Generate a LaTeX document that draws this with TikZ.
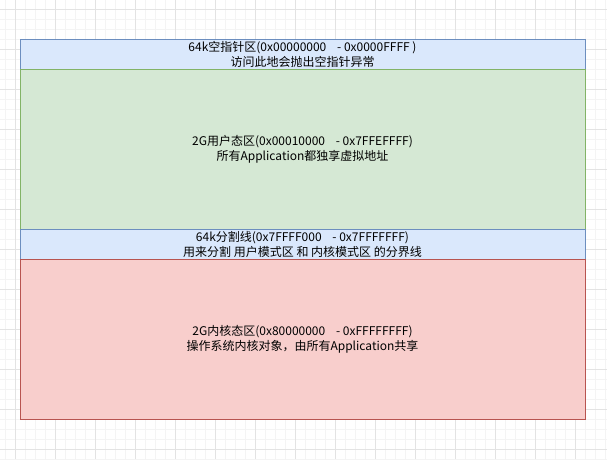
\documentclass[tikz,border=0pt]{standalone}
\usepackage{fontspec}
\setmainfont{Noto Sans CJK SC}
\definecolor{gridmin}{HTML}{F4F4F4}
\definecolor{gridmaj}{HTML}{E3E3E3}
\definecolor{bluefill}{HTML}{DAE8FC}
\definecolor{bluedraw}{HTML}{6C8EBF}
\definecolor{greenfill}{HTML}{D5E8D4}
\definecolor{greendraw}{HTML}{82B366}
\definecolor{redfill}{HTML}{F8CECC}
\definecolor{reddraw}{HTML}{B85450}
\begin{document}
\begin{tikzpicture}[x=1pt, y=-1pt,
  area/.style={rectangle, inner sep=0pt, minimum width=565pt, align=center,
    font=\fontsize{12}{14.5}\selectfont, line width=0.8pt},
  bluearea/.style={area, fill=bluefill, draw=bluedraw},
  greenarea/.style={area, fill=greenfill, draw=greendraw},
  redarea/.style={area, fill=redfill, draw=reddraw}]
\useasboundingbox (0,0) rectangle (607,459);
% grid
\foreach \x in {5,15,...,605} \draw[gridmin, line width=0.6pt] (\x,0)--(\x,459);
\foreach \y in {-1,9,...,459} \draw[gridmin, line width=0.6pt] (0,\y)--(607,\y);
\foreach \x in {15,55,...,605} \draw[gridmaj, line width=0.6pt] (\x,0)--(\x,459);
\foreach \y in {9,49,...,459} \draw[gridmaj, line width=0.6pt] (0,\y)--(607,\y);
% areas
\node[bluearea, minimum height=30pt] (null) at (302.5,54.5) {64k空指针区(0x00000000\ \ \ \ - 0x0000FFFF )\\访问此地会抛出空指针异常};
\node[greenarea, minimum height=160pt] (user) at (302.5,149.5) {2G用户态区(0x00010000\ \ \ \ - 0x7FFEFFFF)\\所有Application都独享虚拟地址};
\node[bluearea, minimum height=30pt] (split) at (302.5,244.5) {64k分割线(0x7FFFF000\ \ \ \ - 0x7FFFFFFF)\\用来分割 用户模式区 和 内核模式区 的分界线};
\node[redarea, minimum height=160pt] (kernel) at (302.5,339.5) {2G内核态区(0x80000000\ \ \ \ - 0xFFFFFFFF)\\操作系统内核对象，由所有Application共享};
\end{tikzpicture}
\end{document}
